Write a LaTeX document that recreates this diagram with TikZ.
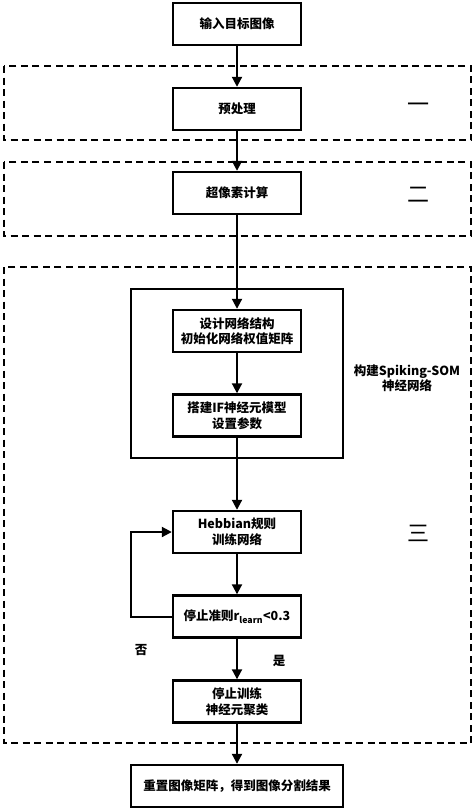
\documentclass[tikz,border=0pt]{standalone}
\usepackage{fontspec}
\setmainfont{Noto Sans CJK SC}
\usetikzlibrary{arrows.meta}
\tikzset{
  stepbox/.style={draw, line width=2.4pt, minimum width=128pt, minimum height=42pt,
    inner sep=0pt, align=center, font=\fontsize{12.5}{15.5}\selectfont\bfseries},
  widebox/.style={stepbox, minimum width=212pt},
  stage/.style={line width=2.2pt, dash pattern=on 7pt off 4.5pt},
  flow/.style={-{Triangle[length=10pt,width=10pt]}, line width=2pt},
  numlabel/.style={font=\fontsize{22}{22}\selectfont},
  note/.style={font=\fontsize{12.5}{15.5}\selectfont\bfseries, align=center}
}
\begin{document}
\begin{tikzpicture}[x=1pt,y=-1pt]
  \useasboundingbox (0,0) rectangle (474,811);
  % stages
  \draw[stage] (4,66) rectangle (471,140);
  \draw[stage] (4,162) rectangle (471,236);
  \draw[stage] (4,267) rectangle (471,743);
  \draw[line width=2.4pt] (131,289) rectangle (343,458);
  % steps
  \node[stepbox] (input) at (237,24) {输入目标图像};
  \node[stepbox] (prep) at (237,109) {预处理};
  \node[stepbox] (spix) at (237,193) {超像素计算};
  \node[stepbox] (design) at (237,331) {设计网络结构\\初始化网络权值矩阵};
  \node[stepbox] (ifmodel) at (237,415.5) {搭建IF神经元模型\\设置参数};
  \node[stepbox] (hebb) at (237,532) {Hebbian规则\\训练网络};
  \node[stepbox] (crit) at (237,616.5) {停止准则r\textsubscript{learn}<0.3};
  \node[stepbox] (cluster) at (237,701.5) {停止训练\\神经元聚类};
  \node[widebox] (result) at (237,786) {重置图像矩阵，得到图像分割结果};
  % labels
  \node[numlabel] (one) at (418,108) {一};
  \node[numlabel] (two) at (418,195) {二};
  \node[numlabel] (three) at (418,533) {三};
  \node[note] (som) at (407,378) {构建Spiking-SOM\\神经网络};
  \node[note] (no) at (141,650) {否};
  \node[note] (yes) at (279,661) {是};
  \coordinate (back) at (131,616.5);
  % arrows
  \draw[flow] (input) -- (prep);
  \draw[flow] (prep) -- (spix);
  \draw[flow] (spix) -- (design);
  \draw[flow] (design) -- (ifmodel);
  \draw[flow] (ifmodel) -- (hebb);
  \draw[flow] (hebb) -- (crit);
  \draw[flow] (crit) -- (cluster);
  \draw[flow] (cluster) -- (result);
  \draw[flow] (crit.west) -- (back) |- (hebb.west);
\end{tikzpicture}
\end{document}
